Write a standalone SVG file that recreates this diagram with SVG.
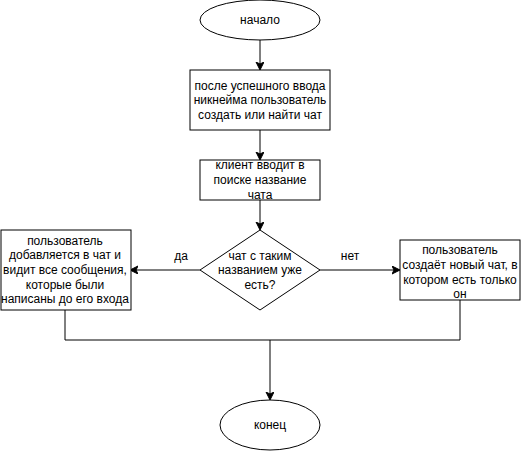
<svg xmlns="http://www.w3.org/2000/svg" width="521" height="451" viewBox="0 0 521 451">
<style>
.s{fill:#fff;stroke:#000;stroke-width:1}
.c{fill:none;stroke:#000;stroke-width:1}
text{font-family:"Liberation Sans",Arial,sans-serif;font-size:12px;fill:#000;text-anchor:middle;dominant-baseline:central}
</style>
<defs>
<marker id="a" markerWidth="10" markerHeight="10" refX="7" refY="4" orient="auto" markerUnits="userSpaceOnUse">
<path d="M0,0 L8,4 L0,8 L2,4 Z" fill="#000" stroke="#000" stroke-width="1"/>
</marker>
</defs>
<rect width="521" height="451" fill="#fff"/>
<g id="connectors">
<path class="c" d="M260,40 V69" marker-end="url(#a)"/>
<path class="c" d="M260,130 V159" marker-end="url(#a)"/>
<path class="c" d="M260,200 V229" marker-end="url(#a)"/>
<path class="c" d="M200,270 H131" marker-end="url(#a)"/>
<path class="c" d="M320,270 H399" marker-end="url(#a)"/>
<path class="c" d="M65,310 V340 H460 V300"/>
<path class="c" d="M270,340 V399" marker-end="url(#a)"/>
<text x="181" y="256">да</text>
<text x="350" y="256">нет</text>
</g>
<g id="start">
<ellipse class="s" cx="260" cy="20" rx="60" ry="20"/>
<text x="260" y="20">начало</text>
</g>
<g id="step1">
<rect class="s" x="190" y="70" width="140" height="60"/>
<text x="260" y="86">после успешного ввода</text>
<text x="260" y="100">никнейма пользователь</text>
<text x="260" y="115">создать или найти чат</text>
</g>
<g id="step2">
<rect class="s" x="200" y="160" width="120" height="40"/>
<text x="260" y="165">клиент вводит в</text>
<text x="260" y="180">поиске название</text>
<text x="260" y="195">чата</text>
</g>
<g id="decision">
<polygon class="s" points="260,230 320,270 260,310 200,270"/>
<text x="260" y="256">чат с таким</text>
<text x="260" y="270">названием уже</text>
<text x="260" y="285">есть?</text>
</g>
<g id="yes">
<rect class="s" x="1" y="230" width="130" height="80"/>
<text x="65" y="241">пользователь</text>
<text x="65" y="255">добавляется в чат и</text>
<text x="65" y="270">видит все сообщения,</text>
<text x="65" y="285">которые были</text>
<text x="65" y="299">написаны до его входа</text>
</g>
<g id="no">
<rect class="s" x="400" y="240" width="120" height="60"/>
<text x="460" y="250">пользователь</text>
<text x="460" y="265">создаёт новый чат, в</text>
<text x="460" y="280">котором есть только</text>
<text x="460" y="294">он</text>
</g>
<g id="end">
<ellipse class="s" cx="270" cy="425" rx="50" ry="25"/>
<text x="270" y="425">конец</text>
</g>
</svg>
